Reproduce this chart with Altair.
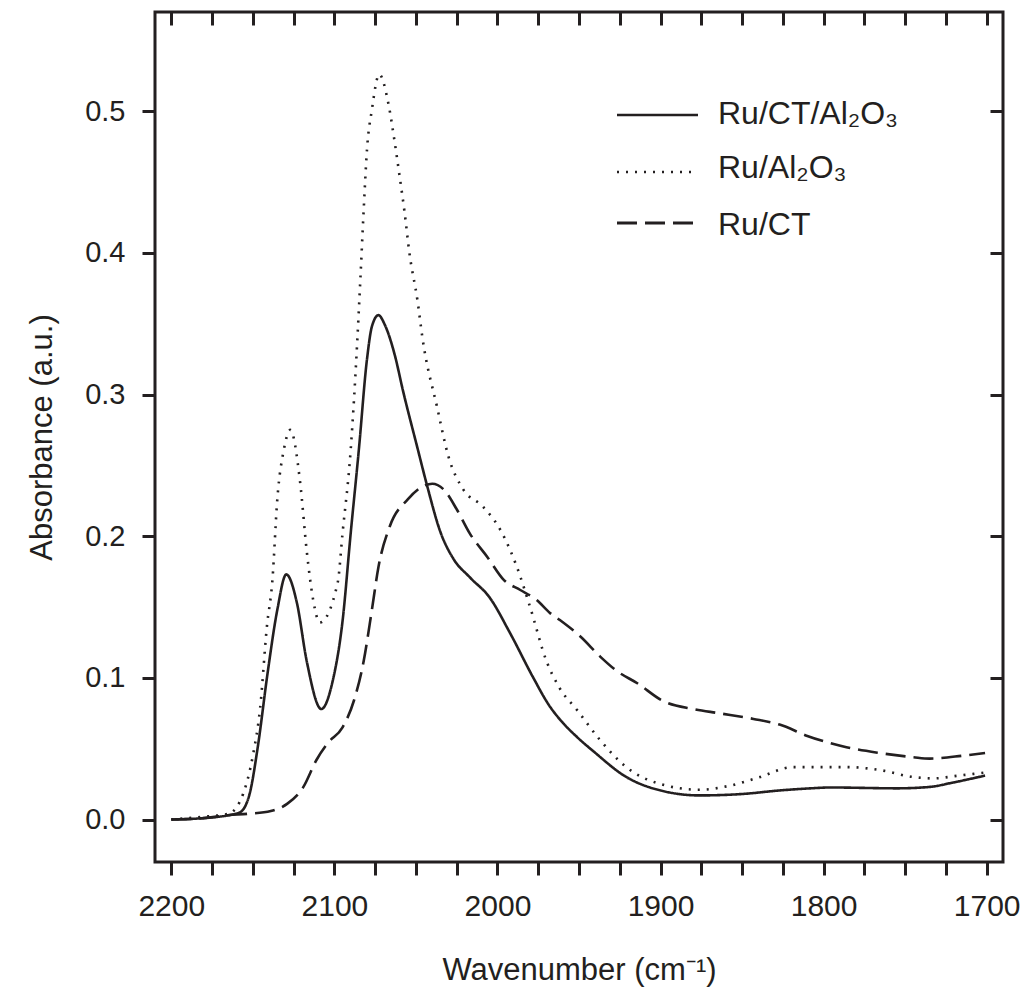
import altair as alt
import pandas as pd

# ---- data ----
s1_name = "Ru/CT/Al₂O₃"
s1_x = [2200, 2180, 2165, 2158, 2152, 2147, 2141, 2135, 2129.5, 2123, 2117, 2108, 2101, 2095, 2090,
        2085, 2080, 2077, 2073, 2069, 2063, 2058, 2049, 2043, 2035, 2027, 2017, 2005, 1992, 1978,
        1968, 1962, 1951, 1941, 1921, 1900, 1876, 1850, 1827, 1808, 1796, 1755, 1735, 1721, 1701]
s1_y = [0.0, 0.001, 0.003, 0.005, 0.018, 0.051, 0.103, 0.148, 0.173, 0.153, 0.112, 0.078, 0.098, 0.140, 0.202,
        0.261, 0.325, 0.348, 0.356, 0.349, 0.328, 0.303, 0.262, 0.235, 0.203, 0.184, 0.171, 0.157, 0.131, 0.100,
        0.080, 0.071, 0.058, 0.048, 0.030, 0.0205, 0.017, 0.018, 0.0205, 0.022, 0.0226, 0.022, 0.023, 0.026, 0.031]

s2_name = "Ru/Al₂O₃"
s2_x = [2200, 2180, 2165, 2156, 2150, 2145.5, 2141.4, 2138, 2135, 2131, 2127, 2121, 2117, 2113, 2109,
        2098, 2095, 2090, 2088, 2086, 2084, 2082, 2080, 2077, 2072.5, 2067, 2063, 2060, 2057, 2054,
        2049, 2046, 2037, 2030, 2021, 2009, 1998, 1988, 1980, 1970, 1962, 1951, 1937, 1921, 1900,
        1876, 1857, 1839, 1819, 1807, 1786, 1766, 1745, 1733, 1717, 1702]
s2_y = [0.0, 0.002, 0.004, 0.018, 0.045, 0.079, 0.136, 0.169, 0.226, 0.261, 0.275, 0.238, 0.190, 0.155, 0.139,
        0.167, 0.202, 0.261, 0.296, 0.337, 0.383, 0.431, 0.473, 0.501, 0.526, 0.506, 0.478, 0.454, 0.429, 0.400,
        0.366, 0.340, 0.291, 0.256, 0.233, 0.221, 0.204, 0.178, 0.150, 0.112, 0.093, 0.077, 0.056, 0.037, 0.025,
        0.021, 0.024, 0.030, 0.037, 0.037, 0.037, 0.035, 0.030, 0.029, 0.031, 0.033]

s3_name = "Ru/CT"
s3_x = [2200, 2180, 2165, 2153, 2139, 2129, 2119, 2111, 2104, 2095, 2088, 2082, 2077, 2073, 2066,
        2055, 2046, 2040, 2033, 2025, 2017, 2006, 1996, 1986, 1976, 1968, 1962, 1949, 1937, 1927,
        1914, 1899, 1880, 1864, 1843, 1827, 1810, 1786, 1766, 1745, 1735, 1715, 1701]
s3_y = [0.0, 0.001, 0.003, 0.004, 0.006, 0.011, 0.023, 0.042, 0.054, 0.065, 0.084, 0.112, 0.148, 0.178, 0.207,
        0.226, 0.235, 0.237, 0.233, 0.219, 0.202, 0.185, 0.169, 0.162, 0.155, 0.146, 0.141, 0.129, 0.115, 0.105,
        0.096, 0.084, 0.078, 0.075, 0.071, 0.067, 0.059, 0.051, 0.047, 0.044, 0.043, 0.045, 0.047]

series_names = [s1_name, s2_name, s3_name]
x_ticks = list(range(1700, 2201, 25))
y_ticks = [0.0, 0.1, 0.2, 0.3, 0.4, 0.5]

rows = []
for name, xs, ys in [(s1_name, s1_x, s1_y), (s2_name, s2_x, s2_y), (s3_name, s3_x, s3_y)]:
    for a, b in zip(xs, ys):
        rows.append({"series": name, "wn": a, "abs": b})
df = pd.DataFrame(rows)

INK = "#231f20"
FONT = "Liberation Sans"
dash_range = [[1, 0], [2, 7], [20, 8]]
width_range = [2.6, 2.6, 3.0]

xscale = alt.Scale(domain=[1690, 2210], reverse=True, nice=False, zero=False)
yscale = alt.Scale(domain=[-0.03, 0.57], nice=False, zero=False)

lines = alt.Chart(df).mark_line(interpolate="monotone", color=INK, clip=True).encode(
    x=alt.X("wn:Q", scale=xscale,
            axis=alt.Axis(orient="bottom", values=x_ticks, format="d",
                          labelExpr="datum.value % 100 == 0 ? datum.label : ''",
                          tickSize=13, tickWidth=3, tickColor=INK, domain=False, grid=False,
                          labelFontSize=30, labelFont=FONT, labelColor=INK, labelPadding=16,
                          title="Wavenumber (cm⁻¹)", titleFontSize=31, titleFont=FONT,
                          titleFontWeight="normal", titleColor=INK, titlePadding=34)),
    y=alt.Y("abs:Q", scale=yscale,
            axis=alt.Axis(orient="left", values=y_ticks, format=".1f",
                          tickSize=13, tickWidth=3, tickColor=INK, domain=False, grid=False,
                          labelFontSize=29, labelFont=FONT, labelColor=INK, labelPadding=17,
                          title="Absorbance (a.u.)", titleFontSize=31, titleFont=FONT,
                          titleFontWeight="normal", titleColor=INK, titlePadding=26)),
    strokeDash=alt.StrokeDash("series:N", scale=alt.Scale(domain=series_names, range=dash_range), legend=None),
    strokeWidth=alt.StrokeWidth("series:N", scale=alt.Scale(domain=series_names, range=width_range), legend=None),
)

mirror = alt.Chart(df).mark_line(opacity=0).encode(
    x=alt.X("wn:Q", scale=xscale,
            axis=alt.Axis(orient="top", values=x_ticks, labels=False, title=None, offset=-13,
                          tickSize=13, tickWidth=3, tickColor=INK, domain=False, grid=False)),
    y=alt.Y("abs:Q", scale=yscale,
            axis=alt.Axis(orient="right", values=y_ticks, labels=False, title=None, offset=-13,
                          tickSize=13, tickWidth=3, tickColor=INK, domain=False, grid=False)),
    detail="series:N",
)

# legend (drawn by hand so the symbols can be long strokes)
leg_df = pd.DataFrame({"series": series_names})
legend_layers = []
line_y = [103, 160, 211]
text_y = [112, 166, 223]
for i, name in enumerate(series_names):
    sub = leg_df[leg_df.series == name]
    legend_layers.append(
        alt.Chart(sub).mark_rule(color=INK, strokeDash=dash_range[i], strokeWidth=width_range[i]).encode(
            x=alt.value(462), x2=alt.value(543), y=alt.value(line_y[i]))
    )
    legend_layers.append(
        alt.Chart(sub).mark_text(align="left", baseline="alphabetic", fontSize=32, font=FONT, color=INK).encode(
            x=alt.value(563), y=alt.value(text_y[i]), text="series:N")
    )

chart = alt.layer(lines, mirror, *legend_layers).resolve_axis(
    x="independent", y="independent"
).properties(
    width=848, height=850,
    padding={"left": 155, "top": 12, "right": 18, "bottom": 138},
    autosize=alt.AutoSizeParams(type="none"),
    background="white",
).configure_view(stroke=INK, strokeWidth=3)

chart.save("out.html", embed_options={"renderer": "svg", "actions": False})
